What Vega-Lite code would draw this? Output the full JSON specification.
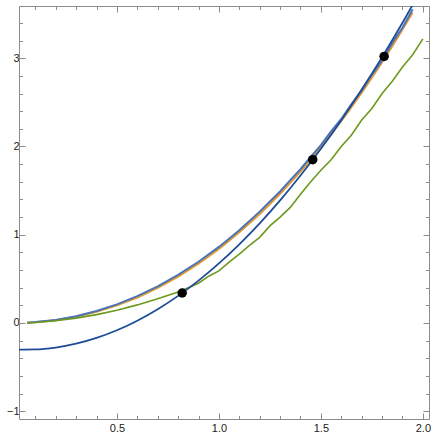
{
  "$schema": "https://vega.github.io/schema/vega-lite/v6.json",
  "width": 410,
  "height": 413,
  "autosize": "none",
  "padding": {"left": 19, "top": 6, "right": 11, "bottom": 23},
  "background": "white",
  "config": {
    "view": {"stroke": null},
    "axis": {
      "grid": false,
      "domainColor": "#8c8c8c",
      "domainWidth": 1,
      "tickColor": "#8c8c8c",
      "labelColor": "#222222",
      "labelFont": "Liberation Sans",
      "labelFontSize": 11,
      "labelOverlap": false,
      "labelFlush": false,
      "title": null
    }
  },
  "datasets": {
    "fit": [
      {"x": 0.02, "y": -0.302}, {"x": 0.1, "y": -0.2998}, {"x": 0.2, "y": -0.278}, {"x": 0.3, "y": -0.2346},
      {"x": 0.4, "y": -0.1695}, {"x": 0.5, "y": -0.0828}, {"x": 0.6, "y": 0.0255}, {"x": 0.7, "y": 0.1555},
      {"x": 0.8, "y": 0.3072}, {"x": 0.9, "y": 0.4803}, {"x": 1.0, "y": 0.6752}, {"x": 1.1, "y": 0.8917},
      {"x": 1.2, "y": 1.1298}, {"x": 1.3, "y": 1.3895}, {"x": 1.4, "y": 1.6709}, {"x": 1.5, "y": 1.9739},
      {"x": 1.6, "y": 2.2985}, {"x": 1.7, "y": 2.6448}, {"x": 1.8, "y": 3.0128}, {"x": 1.9, "y": 3.4022},
      {"x": 2.0, "y": 3.8134}
    ],
    "orange": [
      {"x": 0.06, "y": 0.003}, {"x": 0.1, "y": 0.008}, {"x": 0.2, "y": 0.031}, {"x": 0.3, "y": 0.07},
      {"x": 0.4, "y": 0.126}, {"x": 0.5, "y": 0.199}, {"x": 0.6, "y": 0.289}, {"x": 0.7, "y": 0.398},
      {"x": 0.8, "y": 0.526}, {"x": 0.9, "y": 0.673}, {"x": 1.0, "y": 0.84}, {"x": 1.05, "y": 0.931},
      {"x": 1.1, "y": 1.027}, {"x": 1.15, "y": 1.129}, {"x": 1.2, "y": 1.235}, {"x": 1.25, "y": 1.348},
      {"x": 1.3, "y": 1.465}, {"x": 1.35, "y": 1.588}, {"x": 1.4, "y": 1.717}, {"x": 1.45, "y": 1.851},
      {"x": 1.5, "y": 1.991}, {"x": 1.55, "y": 2.137}, {"x": 1.6, "y": 2.289}, {"x": 1.65, "y": 2.446},
      {"x": 1.7, "y": 2.61}, {"x": 1.75, "y": 2.779}, {"x": 1.8, "y": 2.955}, {"x": 1.85, "y": 3.137},
      {"x": 1.9, "y": 3.325}, {"x": 1.95, "y": 3.519}
    ],
    "blue": [
      {"x": 0.06, "y": 0.004}, {"x": 0.1, "y": 0.01}, {"x": 0.2, "y": 0.035}, {"x": 0.3, "y": 0.077},
      {"x": 0.4, "y": 0.136}, {"x": 0.5, "y": 0.211}, {"x": 0.6, "y": 0.304}, {"x": 0.7, "y": 0.415},
      {"x": 0.8, "y": 0.545}, {"x": 0.9, "y": 0.694}, {"x": 1.0, "y": 0.862}, {"x": 1.05, "y": 0.955},
      {"x": 1.1, "y": 1.052}, {"x": 1.15, "y": 1.155}, {"x": 1.2, "y": 1.262}, {"x": 1.25, "y": 1.377},
      {"x": 1.3, "y": 1.49}, {"x": 1.35, "y": 1.618}, {"x": 1.4, "y": 1.742}, {"x": 1.45, "y": 1.882},
      {"x": 1.5, "y": 2.015}, {"x": 1.55, "y": 2.172}, {"x": 1.6, "y": 2.312}, {"x": 1.65, "y": 2.48},
      {"x": 1.7, "y": 2.632}, {"x": 1.75, "y": 2.815}, {"x": 1.8, "y": 2.976}, {"x": 1.85, "y": 3.172},
      {"x": 1.9, "y": 3.345}, {"x": 1.95, "y": 3.555}
    ],
    "green": [
      {"x": 0.06, "y": 0.0}, {"x": 0.1, "y": 0.005}, {"x": 0.2, "y": 0.025}, {"x": 0.3, "y": 0.055},
      {"x": 0.4, "y": 0.095}, {"x": 0.5, "y": 0.145}, {"x": 0.6, "y": 0.205}, {"x": 0.7, "y": 0.275},
      {"x": 0.8, "y": 0.35}, {"x": 0.85, "y": 0.4}, {"x": 0.9, "y": 0.45}, {"x": 0.95, "y": 0.53},
      {"x": 1.0, "y": 0.59}, {"x": 1.05, "y": 0.69}, {"x": 1.1, "y": 0.78}, {"x": 1.15, "y": 0.88},
      {"x": 1.2, "y": 0.97}, {"x": 1.25, "y": 1.1}, {"x": 1.3, "y": 1.2}, {"x": 1.35, "y": 1.31},
      {"x": 1.4, "y": 1.46}, {"x": 1.45, "y": 1.6}, {"x": 1.5, "y": 1.73}, {"x": 1.55, "y": 1.85},
      {"x": 1.6, "y": 2.0}, {"x": 1.65, "y": 2.13}, {"x": 1.7, "y": 2.3}, {"x": 1.75, "y": 2.43},
      {"x": 1.8, "y": 2.6}, {"x": 1.85, "y": 2.74}, {"x": 1.9, "y": 2.9}, {"x": 1.95, "y": 3.04},
      {"x": 2.0, "y": 3.22}
    ],
    "points": [
      {"x": 0.82, "y": 0.34}, {"x": 1.46, "y": 1.85}, {"x": 1.81, "y": 3.02}
    ]
  },
  "layer": [
    {
      "data": {"name": "orange"},
      "mark": {"type": "line", "color": "#E39A2E", "strokeWidth": 2, "clip": true},
      "encoding": {
        "x": {"field": "x", "type": "quantitative",
          "scale": {"domain": [0.02, 2.03], "nice": false, "zero": false},
          "axis": {"orient": "bottom",
            "values": [0.1,0.2,0.3,0.4,0.5,0.6,0.7,0.8,0.9,1.0,1.1,1.2,1.3,1.4,1.5,1.6,1.7,1.8,1.9,2.0],
            "labelExpr": "abs(datum.value*2 - round(datum.value*2)) < 0.001 ? format(datum.value, '.1f') : ''",
            "tickSize": {"condition": {"test": "abs(datum.value*2 - round(datum.value*2)) < 0.001", "value": -6}, "value": -3.5},
            "labelPadding": 9}},
        "y": {"field": "y", "type": "quantitative",
          "scale": {"domain": [-1.088, 3.592], "nice": false, "zero": false},
          "axis": {"orient": "left",
            "values": [-1,-0.8,-0.6,-0.4,-0.2,0,0.2,0.4,0.6,0.8,1,1.2,1.4,1.6,1.8,2,2.2,2.4,2.6,2.8,3,3.2,3.4],
            "labelExpr": "abs(datum.value - round(datum.value)) < 0.001 ? format(datum.value, 'd') : ''",
            "tickSize": {"condition": {"test": "abs(datum.value - round(datum.value)) < 0.001", "value": -6}, "value": -3.5},
            "labelPadding": 6}}
      }
    },
    {
      "data": {"name": "blue"},
      "mark": {"type": "line", "color": "#4C73B6", "strokeWidth": 2, "clip": true},
      "encoding": {
        "x": {"field": "x", "type": "quantitative",
          "axis": {"orient": "top",
            "values": [0.1,0.2,0.3,0.4,0.5,0.6,0.7,0.8,0.9,1.0,1.1,1.2,1.3,1.4,1.5,1.6,1.7,1.8,1.9,2.0],
            "labels": false,
            "tickSize": {"condition": {"test": "abs(datum.value*2 - round(datum.value*2)) < 0.001", "value": -6}, "value": -3.5}}},
        "y": {"field": "y", "type": "quantitative",
          "axis": {"orient": "right",
            "values": [-1,-0.8,-0.6,-0.4,-0.2,0,0.2,0.4,0.6,0.8,1,1.2,1.4,1.6,1.8,2,2.2,2.4,2.6,2.8,3,3.2,3.4],
            "labels": false,
            "tickSize": {"condition": {"test": "abs(datum.value - round(datum.value)) < 0.001", "value": -6}, "value": -3.5}}}
      }
    },
    {
      "data": {"name": "green"},
      "mark": {"type": "line", "color": "#6C9A1C", "strokeWidth": 1.6, "clip": true},
      "encoding": {
        "x": {"field": "x", "type": "quantitative", "axis": null},
        "y": {"field": "y", "type": "quantitative", "axis": null}
      }
    },
    {
      "data": {"name": "fit"},
      "mark": {"type": "line", "color": "#1F4C97", "strokeWidth": 1.8, "clip": true, "interpolate": "monotone"},
      "encoding": {
        "x": {"field": "x", "type": "quantitative", "axis": null},
        "y": {"field": "y", "type": "quantitative", "axis": null}
      }
    },
    {
      "data": {"name": "points"},
      "mark": {"type": "point", "filled": true, "color": "black", "opacity": 1, "size": 90},
      "encoding": {
        "x": {"field": "x", "type": "quantitative", "axis": null},
        "y": {"field": "y", "type": "quantitative", "axis": null}
      }
    }
  ],
  "resolve": {"axis": {"x": "independent", "y": "independent"}}
}
